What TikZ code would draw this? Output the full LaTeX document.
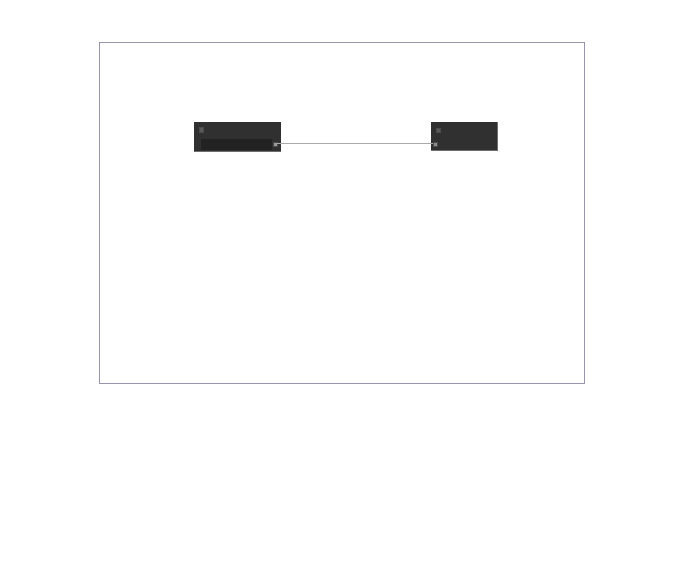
\documentclass[tikz,border=0pt]{standalone}
\usepackage{tikz}
\usetikzlibrary{calc,positioning}
\definecolor{framec}{RGB}{152,148,172}
\definecolor{boxc}{RGB}{48,48,48}
\definecolor{slotc}{RGB}{34,34,34}
\definecolor{edgec}{RGB}{110,110,112}
\definecolor{wirec}{RGB}{170,170,170}
\tikzset{
	block/.style={fill=boxc,draw=none,inner sep=0pt,rectangle},
	slot/.style={fill=slotc,draw=none,inner sep=0pt,rectangle},
	port/.style={fill=#1,draw=black!70,line width=0.4pt,inner sep=0pt,minimum size=4.5pt},
	wire/.style={draw=wirec,line width=1pt}
}
\begin{document}
\begin{tikzpicture}[x=1pt,y=-1pt]
		\useasboundingbox (0,0) rectangle (683,561);
		\draw[framec] (99,42) rectangle (584,383);
		% blocks
		\node[block,minimum width=87pt,minimum height=29pt] (src) at (237.5,136.5) {};
		\node[block,minimum width=66pt,minimum height=28pt] (dst) at (464,136) {};
		\node[slot,minimum width=71pt,minimum height=11pt] (srcslot) at (236.5,144.5) {};
		\draw[edgec,line width=1pt] (src.south west) -- (src.south east);
		\draw[edgec,line width=1pt] (dst.south west) -- (dst.south east) -- (dst.north east);
		% ports
		\node[port=black!65] (srcin) at (201,129.5) {};
		\node[port=black!40] (srcout) at (275,144) {};
		\node[port=black!65] (dsttop) at (438,130) {};
		\node[port=black!45] (dstin) at (435,144) {};
		\draw[wire] (srcout) -- (dstin);
	\end{tikzpicture}
\end{document}
